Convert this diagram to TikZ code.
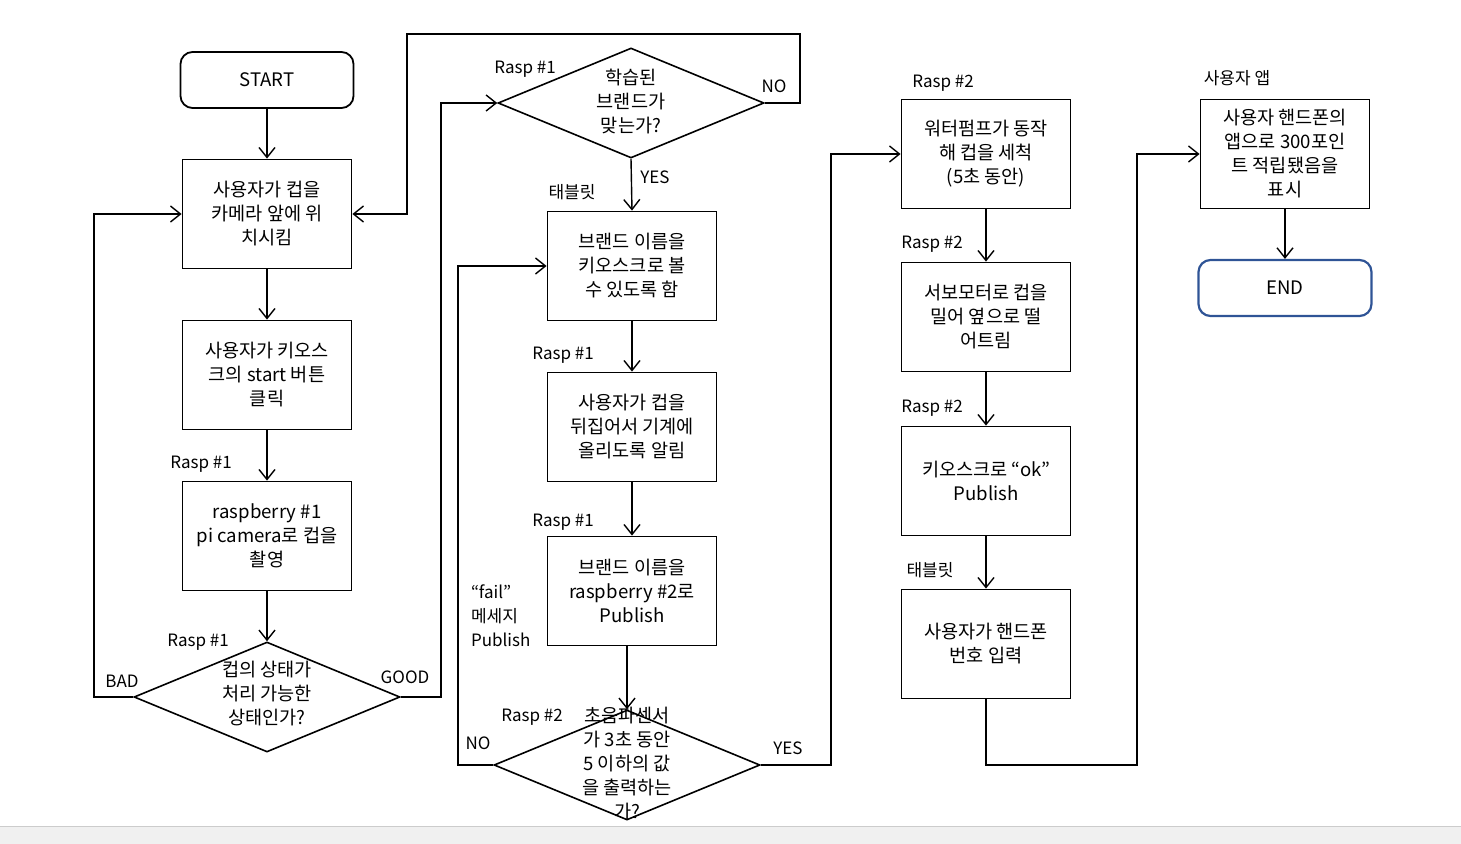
\documentclass[tikz,border=0pt]{standalone}
\usepackage{fontspec}
\setmainfont{Noto Sans CJK KR}
\usetikzlibrary{shapes.geometric,arrows.meta}
\begin{document}
\begin{tikzpicture}[x=0.5pt,y=-0.5pt,
  every node/.style={font=\fontsize{9.3}{12}\selectfont,align=center},
  box/.style={draw,line width=0.9pt,minimum width=84.5pt,minimum height=54.5pt,inner sep=1pt},
  term/.style={draw,line width=0.9pt,rounded corners=6pt,minimum width=86.5pt,minimum height=28pt},
  dia/.style={draw,line width=0.8pt,diamond,inner sep=0pt,minimum width=133pt,minimum height=55pt},
  lab/.style={font=\fontsize{8.5}{12}\selectfont},
  arr/.style={line width=0.7pt,-{Straight Barb[length=5pt,width=8pt]}},
  ln/.style={line width=0.7pt}]
\useasboundingbox (0,0) rectangle (1461,844);
\fill[gray!12] (0,826) rectangle (1461,844);
\draw[gray!40,line width=0.4pt] (0,826) -- (1461,826);

\node[term] (start) at (267,80) {START};
\node[box] (a1) at (267,214) {사용자가 컵을\\카메라 앞에 위\\치시킴};
\node[box] (a2) at (267,375) {사용자가 키오스\\크의 start 버튼\\클릭};
\node[box] (a3) at (267,536) {raspberry \#1\\pi camera로 컵을\\촬영};
\node[dia] (d1) at (267,697) {};
\node at (267,694) {컵의 상태가\\처리 가능한\\상태인가?};

\node[dia] (d2) at (631,103) {};
\node at (631,101) {학습된\\브랜드가\\맞는가?};
\node[box] (b1) at (632,266) {브랜드 이름을\\키오스크로 볼\\수 있도록 함};
\node[box] (b2) at (632,427) {사용자가 컵을\\뒤집어서 기계에\\올리도록 알림};
\node[box] (b3) at (632,591) {브랜드 이름을\\raspberry \#2로\\Publish};
\node[dia] (d3) at (627,765) {};
\node at (627,764) {초음파센서\\가 3초 동안\\5 이하의 값\\을 출력하는\\가?};

\node[box] (c1) at (986,154) {워터펌프가 동작\\해 컵을 세척\\(5초 동안)};
\node[box] (c2) at (986,317) {서보모터로 컵을\\밀어 옆으로 떨\\어트림};
\node[box] (c3) at (986,481) {키오스크로 “ok”\\Publish};
\node[box] (c4) at (986,644) {사용자가 핸드폰\\번호 입력};
\node[box] (e1) at (1285,154) {사용자 핸드폰의\\앱으로 300포인\\트 적립됐음을\\표시};
\node[term,draw={rgb,255:red,47;green,84;blue,150},line width=1.1pt] (end) at (1285,288) {END};

\draw[arr] (start) -- (a1);
\draw[arr] (a1) -- (a2);
\draw[arr] (a2) -- (a3);
\draw[arr] (a3) -- (d1);
\draw[arr] (d1.west) -- (94,697) -- (94,214) -- (a1.west);
\draw[arr] (d1.east) -- (441,697) -- (441,103) -- (d2.west);
\draw[arr] (d2.east) -- (800,103) -- (800,34) -- (407,34) -- (407,214) -- (a1.east);
\draw[arr] (d2.south) -- (b1.north);
\draw[arr] (b1) -- (b2);
\draw[arr] (b2) -- (b3);
\draw[arr] (b3.south -| d3.north) -- (d3.north);
\draw[arr] (d3.west) -- (458,765) -- (458,266) -- (b1.west);
\draw[arr] (d3.east) -- (831,765) -- (831,154) -- (c1.west);
\draw[arr] (c1) -- (c2);
\draw[arr] (c2) -- (c3);
\draw[arr] (c3) -- (c4);
\draw[arr] (c4.south) -- (986,765) -- (1137,765) -- (1137,154) -- (e1.west);
\draw[arr] (e1) -- (end);

\node[lab] at (201,464) {Rasp \#1};
\node[lab] at (198,642) {Rasp \#1};
\node[lab] at (122,681) {BAD};
\node[lab] at (405,677) {GOOD};
\node[lab] at (525,69) {Rasp \#1};
\node[lab] at (774,86) {NO};
\node[lab] at (655,177) {YES};
\node[lab] at (572,192) {태블릿};
\node[lab] at (563,355) {Rasp \#1};
\node[lab] at (563,522) {Rasp \#1};
\node[lab,align=left,anchor=west] at (464,616) {“fail”\\메세지\\Publish};
\node[lab] at (532,717) {Rasp \#2};
\node[lab] at (478,743) {NO};
\node[lab] at (788,748) {YES};
\node[lab] at (943,83) {Rasp \#2};
\node[lab] at (932,244) {Rasp \#2};
\node[lab] at (932,408) {Rasp \#2};
\node[lab] at (930,570) {태블릿};
\node[lab] at (1237,78) {사용자 앱};
\end{tikzpicture}
\end{document}
